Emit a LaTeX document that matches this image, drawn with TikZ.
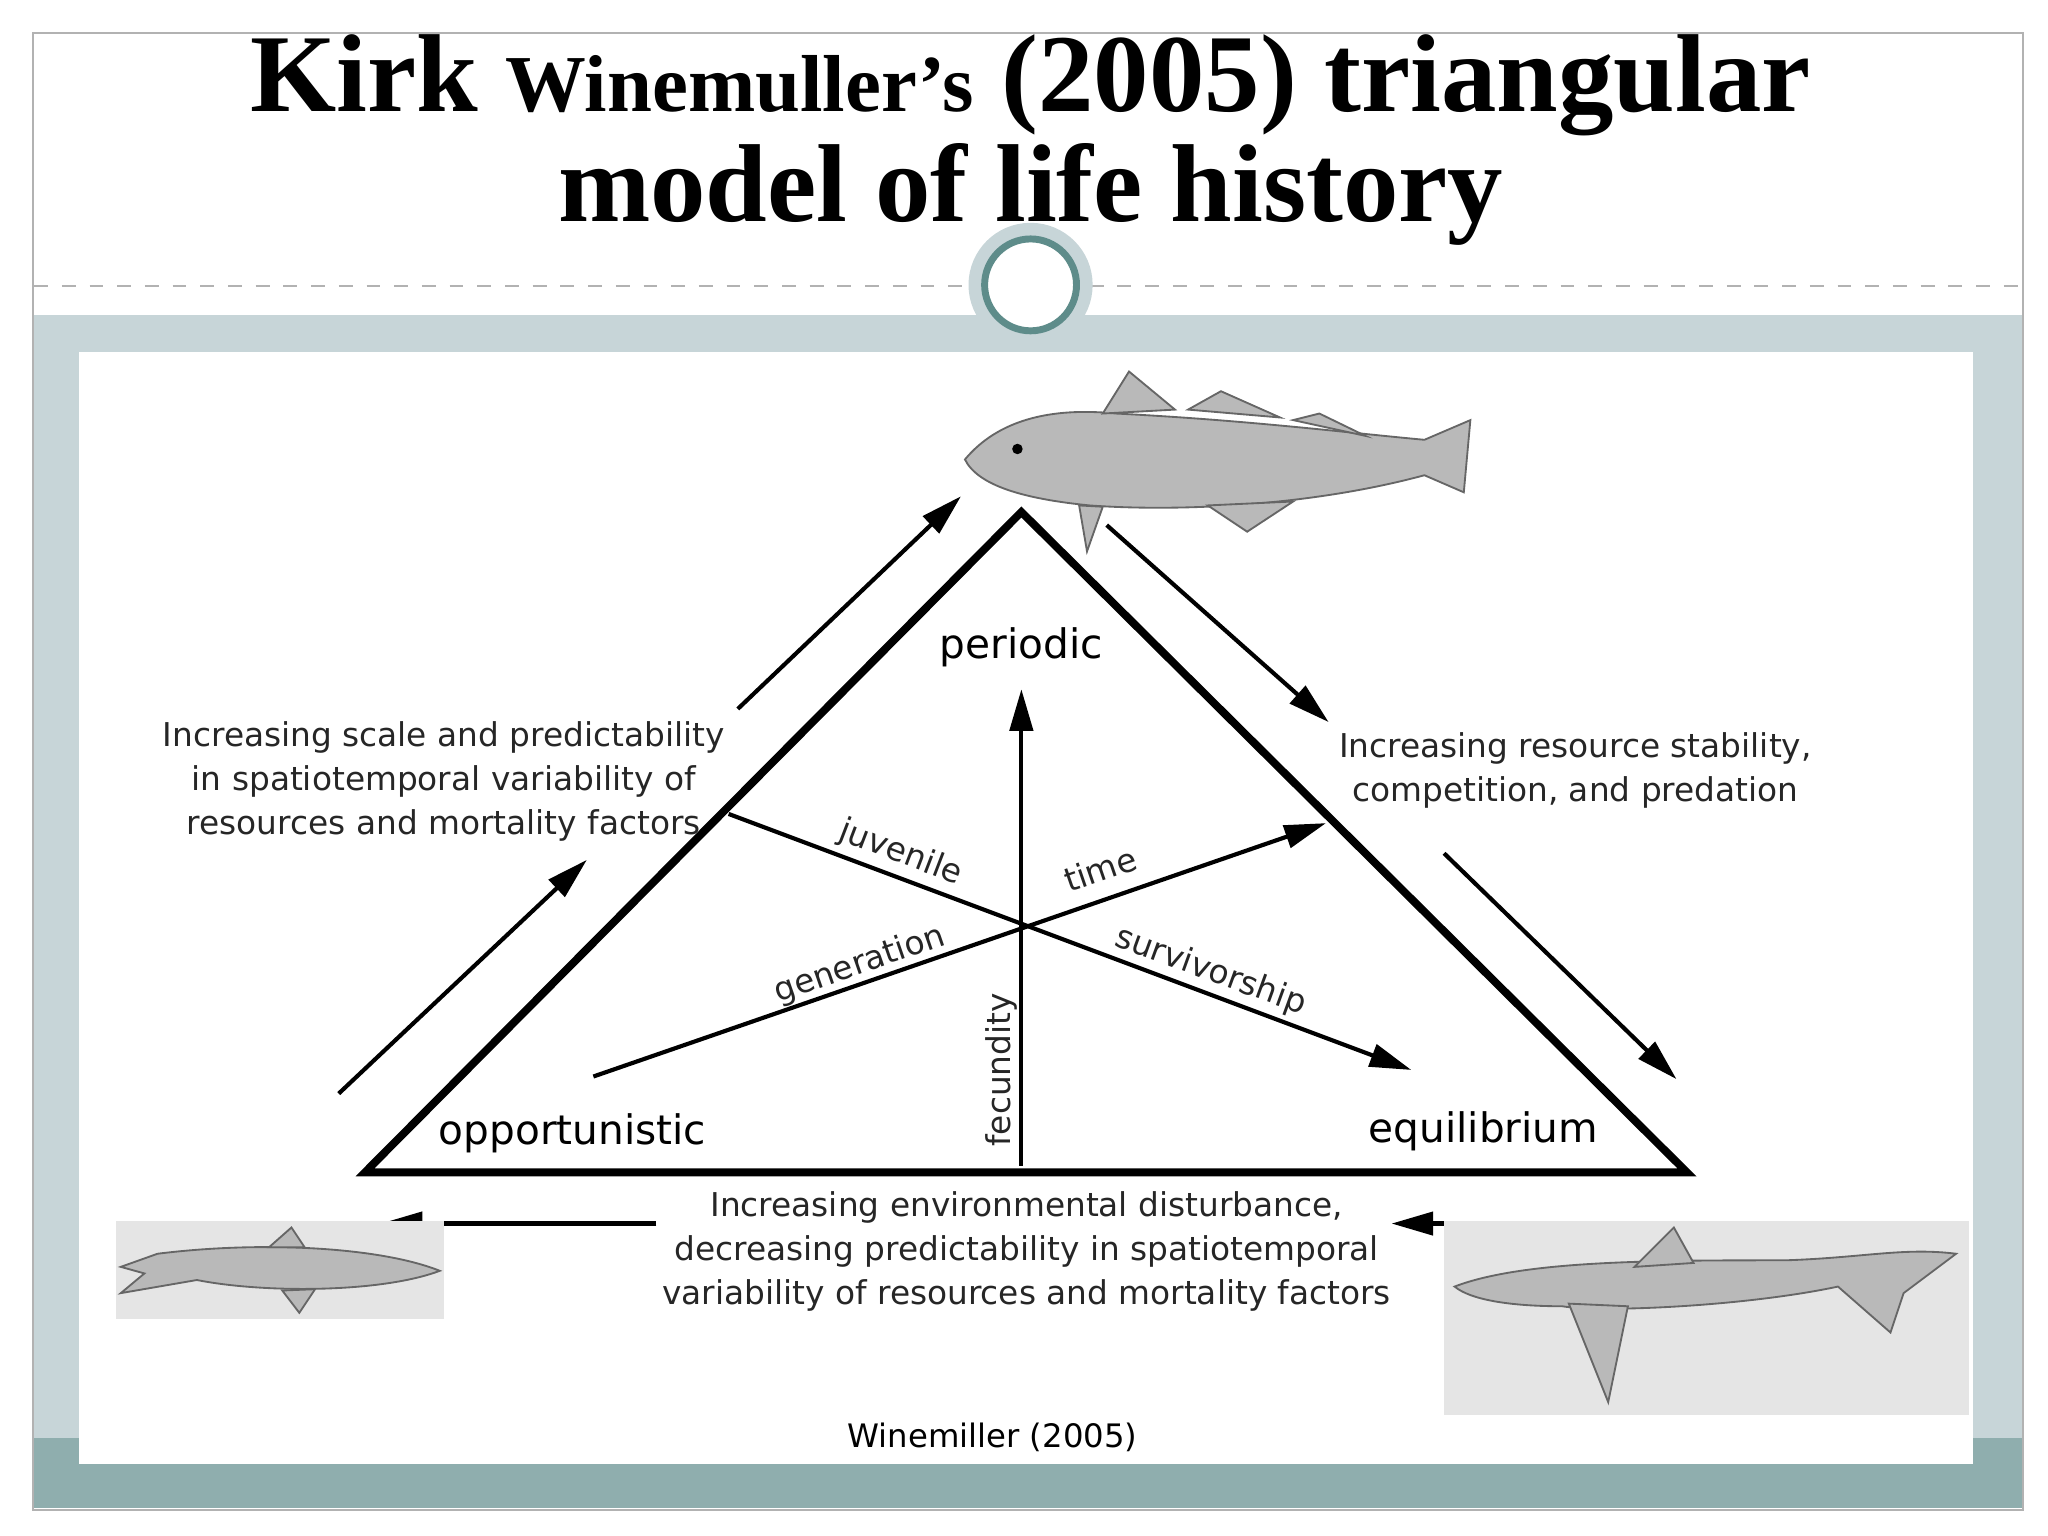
\documentclass[tikz,border=0pt]{standalone}
\usepackage{fontspec}
\setmainfont{Liberation Serif}
\setsansfont{DejaVu Sans}
\usetikzlibrary{arrows.meta}
\definecolor{band}{HTML}{C7D5D8}
\definecolor{dband}{HTML}{8FAEAE}
\definecolor{ring}{HTML}{5E8C8A}
\tikzset{
  ar/.style={-{Triangle[length=9pt,width=5pt]},line width=0.9pt},
  tx/.style={font=\sffamily\fontsize{7.1}{9.5}\selectfont,align=center,text=black!85,inner sep=1pt},
  lab/.style={font=\sffamily\fontsize{8.8}{11}\selectfont},
  fish/.style={fill=gray!55,draw=gray!80!black,line width=0.4pt}
}
\begin{document}
\begin{tikzpicture}[x=0.01cm,y=-0.01cm]
\useasboundingbox (0,0) rectangle (1560,1170);
\fill[white] (0,0) rectangle (1560,1170);
\draw[gray!60] (25,25) rectangle (1541,1150);
\fill[band] (26,240) rectangle (1540,1149);
\fill[dband] (26,1095) rectangle (1540,1149);
\fill[white] (60,268) rectangle (1503,1115);
\draw[gray!60,dashed] (26,218) -- (740,218) (830,218) -- (1540,218);
\fill[white] (785,217) circle (46);
\draw[band,line width=3pt] (785,217) circle (42);
\draw[ring,line width=1.5pt] (785,217) circle (35);
\node (t1) at (785,65) {\fontsize{24}{27}\selectfont\bfseries Kirk {\fontsize{17.5}{20}\selectfont Winemuller’s} (2005) triangular};
\node (t2) at (785,148) {\fontsize{24}{27}\selectfont\bfseries model of life history};
% triangle
\coordinate (A) at (778,390); \coordinate (L) at (278,893); \coordinate (R) at (1285,893);
\draw[line width=1.7pt,line join=miter] (A) -- (L) -- (R) -- cycle;
\coordinate (c) at (778,705);
\coordinate (vb) at (778,888); \coordinate (vt) at (778,525);
\draw[ar] (vb) -- (vt);
\coordinate (j0) at (555,620); \coordinate (j1) at (1075,815);
\draw[ar] (j0) -- (j1);
\coordinate (g0) at (452,820); \coordinate (g1) at (1010,627);
\draw[ar] (g0) -- (g1);
\node[lab] (per) at (778,493) {periodic};
\node[lab] (opp) at (436,863) {opportunistic};
\node[lab] (eq) at (1130,862) {equilibrium};
\node[tx,rotate=90] (fec) at (763,815) {fecundity};
\node[tx,rotate=-21] (juv) at (686,650) {juvenile};
\node[tx,rotate=-20] (surv) at (922,740) {survivorship};
\node[tx,rotate=19] (gen) at (655,735) {generation};
\node[tx,rotate=19] (tim) at (838,662) {time};
% outer arrows
\coordinate (a1) at (258,833); \coordinate (a2) at (447,655);
\coordinate (a3) at (562,540); \coordinate (a4) at (732,378);
\coordinate (a5) at (843,400); \coordinate (a6) at (1012,550);
\coordinate (a7) at (1100,650); \coordinate (a8) at (1277,822);
\coordinate (b1) at (500,932); \coordinate (b2) at (290,932);
\coordinate (b3) at (1240,932); \coordinate (b4) at (1060,932);
\draw[ar] (a1) -- (a2); \draw[ar] (a3) -- (a4);
\draw[ar] (a5) -- (a6); \draw[ar] (a7) -- (a8);
\draw[ar] (b1) -- (b2); \draw[ar] (b3) -- (b4);
\node[tx] (lt) at (338,595) {Increasing scale and predictability\\in spatiotemporal variability of\\resources and mortality factors};
\node[tx] (rt) at (1200,587) {Increasing resource stability,\\competition, and predation};
\node[tx] (bt) at (782,953) {Increasing environmental disturbance,\\decreasing predictability in spatiotemporal\\variability of resources and mortality factors};
\node[font=\sffamily\fontsize{7}{9}\selectfont] (src) at (756,1095) {Winemiller (2005)};
% top fish (cod)
\fill[fish] (735,350) .. controls (760,320) and (800,310) .. (850,315)
  .. controls (950,320) and (1030,330) .. (1085,335) -- (1120,320) -- (1115,375) -- (1085,362)
  .. controls (1000,385) and (900,390) .. (830,385) .. controls (780,380) and (745,370) .. (735,350) -- cycle;
\fill[fish] (840,315) -- (860,283) -- (895,312) -- cycle;
\fill[fish] (905,312) -- (930,298) -- (975,318) -- cycle;
\fill[fish] (985,320) -- (1005,315) -- (1040,332) -- cycle;
\fill[fish] (920,385) -- (950,405) -- (985,382) -- cycle;
\fill[fish] (822,385) -- (828,420) -- (840,386) -- cycle;
\fill[black] (775,342) circle (4);
% bottom-left fish
\fill[gray!20] (88,930) rectangle (338,1005);
\fill[fish] (92,965) -- (120,955) .. controls (200,945) and (290,950) .. (335,968)
  .. controls (290,985) and (200,985) .. (150,975) -- (92,985) -- (110,970) -- cycle;
\fill[fish] (205,950) -- (222,935) -- (232,950) -- cycle;
\fill[fish] (215,983) -- (228,1000) -- (240,982) -- cycle;
% bottom-right shark
\fill[gray!20] (1100,930) rectangle (1500,1078);
\fill[fish] (1108,980) .. controls (1160,960) and (1260,960) .. (1360,960)
  .. controls (1420,958) and (1450,950) .. (1490,955) -- (1450,985) -- (1440,1015) -- (1400,980)
  .. controls (1330,995) and (1220,1000) .. (1190,995) .. controls (1150,995) and (1120,990) .. (1108,980) -- cycle;
\fill[fish] (1245,965) -- (1275,935) -- (1290,962) -- cycle;
\fill[fish] (1195,993) -- (1225,1068) -- (1240,995) -- cycle;
\end{tikzpicture}
\end{document}
